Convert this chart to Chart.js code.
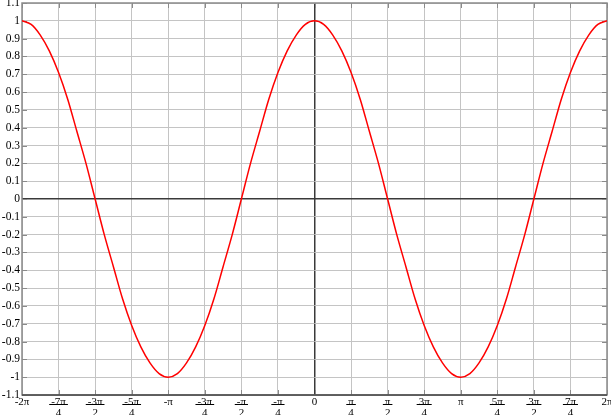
<!DOCTYPE html>
<html>
<head>
<meta charset="utf-8">
<script src="https://cdn.jsdelivr.net/npm/chart.js@4.4.1/dist/chart.umd.min.js"></script>
<style>
  html, body { margin: 0; padding: 0; background: #fff; }
  #wrap { width: 611px; height: 415px; position: relative; }
</style>
</head>
<body>
<div id="wrap"><canvas id="plot"></canvas></div>
<script>
// cos(x), one value every pi/16 from -2pi to 2pi
const curveStart = -2;      // in units of pi
const curveStep = 1 / 16;   // in units of pi
const curveValues = [
  1, 0.98, 0.92, 0.83, 0.71, 0.56, 0.38, 0.2, 0, -0.2, -0.38, -0.56, -0.71, -0.83, -0.92, -0.98, -1,
  -0.98, -0.92, -0.83, -0.71, -0.56, -0.38, -0.2, 0, 0.2, 0.38, 0.56, 0.71, 0.83, 0.92, 0.98, 1,
  0.98, 0.92, 0.83, 0.71, 0.56, 0.38, 0.2, 0, -0.2, -0.38, -0.56, -0.71, -0.83, -0.92, -0.98, -1,
  -0.98, -0.92, -0.83, -0.71, -0.56, -0.38, -0.2, 0, 0.2, 0.38, 0.56, 0.71, 0.83, 0.92, 0.98, 1
];

const xTickLabels = [
  '-2π', ['-7π', '4'], ['-3π', '2'], ['-5π', '4'], '-π', ['-3π', '4'], ['-π', '2'], ['-π', '4'],
  '0', ['π', '4'], ['π', '2'], ['3π', '4'], 'π', ['5π', '4'], ['3π', '2'], ['7π', '4'], '2π'
];
const yTickLabels = [
  '-1.1', '-1', '-0.9', '-0.8', '-0.7', '-0.6', '-0.5', '-0.4', '-0.3', '-0.2', '-0.1', '0',
  '0.1', '0.2', '0.3', '0.4', '0.5', '0.6', '0.7', '0.8', '0.9', '1', '1.1'
];

const FONT = "'Liberation Serif', 'DejaVu Serif', serif";
const points = curveValues.map((v, i) => ({ x: curveStart + i * curveStep, y: v }));

// frame, inward tick marks and fraction bars under the x labels
const frameAndFractions = {
  id: 'frameAndFractions',
  beforeDatasetsDraw(chart) {
    const { ctx, chartArea: a, scales } = chart;
    ctx.save();
    ctx.strokeStyle = '#8a8a8a';
    ctx.lineWidth = 1;
    const tl = 5;
    scales.x.ticks.forEach(t => {
      const px = Math.round(scales.x.getPixelForValue(t.value)) + 0.5;
      ctx.beginPath();
      ctx.moveTo(px, a.top); ctx.lineTo(px, a.top + tl);
      ctx.moveTo(px, a.bottom); ctx.lineTo(px, a.bottom - tl);
      ctx.stroke();
    });
    scales.y.ticks.forEach(t => {
      const py = Math.round(scales.y.getPixelForValue(t.value)) + 0.5;
      ctx.beginPath();
      ctx.moveTo(a.left, py); ctx.lineTo(a.left + tl, py);
      ctx.moveTo(a.right, py); ctx.lineTo(a.right - tl, py);
      ctx.stroke();
    });
    ctx.lineWidth = 1.5;
    ctx.strokeRect(a.left, a.top, a.right - a.left, a.bottom - a.top);
    // bottom edge reads darker in the reference
    ctx.strokeStyle = '#4a4a4a';
    ctx.beginPath();
    ctx.moveTo(a.left, a.bottom); ctx.lineTo(a.right, a.bottom);
    ctx.stroke();
    ctx.restore();
  },
  afterDraw(chart) {
    const { ctx, chartArea: a, scales } = chart;
    ctx.save();
    ctx.font = '11px ' + FONT;
    ctx.strokeStyle = '#000';
    ctx.lineWidth = 1;
    scales.x.ticks.forEach((t, i) => {
      const lab = xTickLabels[i];
      if (!Array.isArray(lab)) return;
      const w = Math.max(ctx.measureText(lab[0]).width, ctx.measureText(lab[1]).width) + 4;
      const px = scales.x.getPixelForValue(t.value);
      const py = Math.round(a.bottom + 9) + 0.5;
      ctx.beginPath();
      ctx.moveTo(px - w / 2, py); ctx.lineTo(px + w / 2, py);
      ctx.stroke();
    });
    ctx.restore();
  }
};

new Chart(document.getElementById('plot'), {
  type: 'line',
  data: {
    datasets: [{
      data: points,
      borderColor: '#ff0000',
      borderWidth: 1.5,
      pointRadius: 0,
      fill: false,
      cubicInterpolationMode: 'monotone'
    }]
  },
  options: {
    responsive: true,
    maintainAspectRatio: false,
    animation: false,
    layout: { padding: { top: 3, right: 4, left: 0, bottom: 0 } },
    plugins: { legend: { display: false }, tooltip: { enabled: false } },
    scales: {
      x: {
        type: 'linear',
        min: -2, max: 2,
        grid: {
          drawTicks: false,
          color: c => (c.tick && c.tick.value === 0) ? '#3a3a3a' : '#c4c4c4',
          lineWidth: c => (c.tick && c.tick.value === 0) ? 1.5 : 1
        },
        border: { display: false },
        ticks: {
          stepSize: 0.25,
          autoSkip: false,
          maxRotation: 0,
          padding: 1,
          color: '#000',
          font: { family: FONT, size: 11, lineHeight: 1.05 },
          callback: (v, i) => xTickLabels[i]
        },
        afterFit(s) { s.height = 20; s.paddingLeft = 0; s.paddingRight = 0; }
      },
      y: {
        min: -1.1, max: 1.1,
        grid: {
          drawTicks: false,
          color: c => (c.tick && Math.abs(c.tick.value) < 1e-9) ? '#3a3a3a' : '#c4c4c4',
          lineWidth: c => (c.tick && Math.abs(c.tick.value) < 1e-9) ? 1.5 : 1
        },
        border: { display: false },
        ticks: {
          stepSize: 0.1,
          autoSkip: false,
          padding: 2,
          color: '#000',
          font: { family: FONT, size: 11.5 },
          callback: (v, i) => yTickLabels[i]
        },
        afterFit(s) { s.width = 22; s.paddingTop = 0; s.paddingBottom = 0; }
      }
    }
  },
  plugins: [frameAndFractions]
});
</script>
</body>
</html>
